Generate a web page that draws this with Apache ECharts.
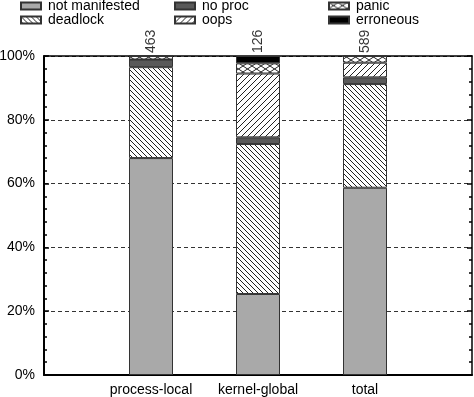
<!DOCTYPE html>
<html>
<head>
<meta charset="utf-8">
<script src="https://cdn.jsdelivr.net/npm/echarts@6/dist/echarts.min.js"></script>
<style>
html, body { margin: 0; padding: 0; background: #fff; }
#main { width: 474px; height: 397px; }
</style>
</head>
<body>
<div id="main"></div>
<script>
// data (percent of runs per class)
var categories = ['process-local', 'kernel-global', 'total'];
var counts = [463, 126, 589];
var notManifested = [68.0, 25.4, 58.7];
var deadlock = [28.5, 47.0, 32.5];
var noProc = [2.4, 2.1, 2.1];
var oops = [0, 20.0, 4.6];
var panic = [1.1, 3.2, 2.1];
var erroneous = [0, 2.3, 0];
var yTicks = [0, 20, 40, 60, 80, 100];

// x axis runs one empty slot either side of the bars
var xSlots = [''].concat(categories).concat(['']);
function pad(arr) { return ['-'].concat(arr).concat(['-']); }

// hatch patterns
function hatch(kind) {
    var w = kind == 'cross' ? 9 : (kind == 'back' ? 5 : 6);
    var h = kind == 'cross' ? 6 : w;
    var c = document.createElement('canvas');
    c.width = w; c.height = h;
    var ctx = c.getContext('2d');
    ctx.fillStyle = '#fff';
    ctx.fillRect(0, 0, w, h);
    ctx.strokeStyle = '#222';
    ctx.lineWidth = 1;
    ctx.beginPath();
    if (kind == 'back') {
        for (var o = -w; o <= w; o += w) { ctx.moveTo(o, 0); ctx.lineTo(o + w, h); }
    } else if (kind == 'fwd') {
        for (var o = -w; o <= w; o += w) { ctx.moveTo(o, h); ctx.lineTo(o + w, 0); }
    } else {
        ctx.moveTo(0, 0); ctx.lineTo(w, h);
        ctx.moveTo(0, h); ctx.lineTo(w, 0);
    }
    ctx.stroke();
    return { image: c, repeat: 'repeat' };
}

function barSeries(name, arr, color) {
    return {
        name: name,
        type: 'bar',
        stack: 'all',
        barWidth: 44,
        data: pad(arr),
        itemStyle: { color: color, borderColor: '#333', borderWidth: 1 },
        emphasis: { disabled: true }
    };
}

var legendBase = {
    orient: 'vertical',
    top: -1,
    padding: 0,
    itemWidth: 20,
    itemHeight: 7,
    itemGap: 0,
    icon: 'rect',
    textStyle: { fontFamily: 'Liberation Sans', fontSize: 14, lineHeight: 14, color: '#000', padding: [0, 0, 0, 2] }
};

var myChart = echarts.init(document.getElementById('main'));
var option = {
    backgroundColor: '#fff',
    animation: false,
    textStyle: { fontFamily: 'Liberation Sans' },
    legend: [
        Object.assign({}, legendBase, { left: 20, data: ['not manifested', 'deadlock'] }),
        Object.assign({}, legendBase, { left: 174, data: ['no proc', 'oops'] }),
        Object.assign({}, legendBase, { left: 328, data: ['panic', 'erroneous'] })
    ],
    grid: { left: 44, right: 2, top: 56, bottom: 22, containLabel: false, outerBoundsMode: 'none' },
    xAxis: [
        {
            type: 'category', data: xSlots, boundaryGap: false,
            axisLine: { show: true, lineStyle: { color: '#000', width: 2 } },
            axisTick: { show: false },
            splitLine: { show: false },
            axisLabel: { color: '#000', fontSize: 14, margin: 8, interval: 0 }
        },
        {
            type: 'category', data: xSlots, boundaryGap: false, position: 'top',
            axisLine: { show: true, onZero: false, lineStyle: { color: '#000', width: 1.5 } },
            axisTick: { show: false }, axisLabel: { show: false }, splitLine: { show: false }
        }
    ],
    yAxis: [
        {
            type: 'value', min: 0, max: 100, interval: 20,
            axisLine: { show: true, lineStyle: { color: '#000', width: 2 } },
            axisTick: { show: true, inside: true, length: 5, lineStyle: { color: '#000', width: 1.5 } },
            minorTick: { show: true, splitNumber: 5, length: 3, lineStyle: { color: '#000', width: 1.5 } },
            splitLine: { show: true, lineStyle: { color: '#333', type: [4, 3], width: 1 } },
            axisLabel: {
                color: '#000', fontSize: 14, margin: 9,
                formatter: function (v) { return yTicks.indexOf(v) >= 0 ? v + '%' : ''; }
            }
        },
        {
            type: 'value', position: 'right', min: 0, max: 100, interval: 20,
            axisLine: { show: true, lineStyle: { color: '#000', width: 1.5 } },
            axisTick: { show: true, inside: true, length: 5, lineStyle: { color: '#000', width: 1.5 } },
            minorTick: { show: true, splitNumber: 5, length: 3, lineStyle: { color: '#000', width: 1.5 } },
            splitLine: { show: false },
            axisLabel: { show: false }
        }
    ],
    series: [
        barSeries('not manifested', notManifested, '#a9a9a9'),
        barSeries('deadlock', deadlock, hatch('back')),
        barSeries('no proc', noProc, '#595959'),
        barSeries('oops', oops, hatch('fwd')),
        barSeries('panic', panic, hatch('cross')),
        barSeries('erroneous', erroneous, '#000'),
        {
            name: 'count',
            type: 'scatter',
            symbolSize: 0,
            silent: true,
            data: pad(categories.map(function () { return 100; })),
            label: {
                show: true, position: 'top', rotate: 90, distance: 3,
                align: 'left', verticalAlign: 'middle',
                color: '#000', fontSize: 14,
                formatter: function (p) { return String(counts[p.dataIndex - 1]); }
            }
        }
    ]
};
myChart.setOption(option);
</script>
</body>
</html>
